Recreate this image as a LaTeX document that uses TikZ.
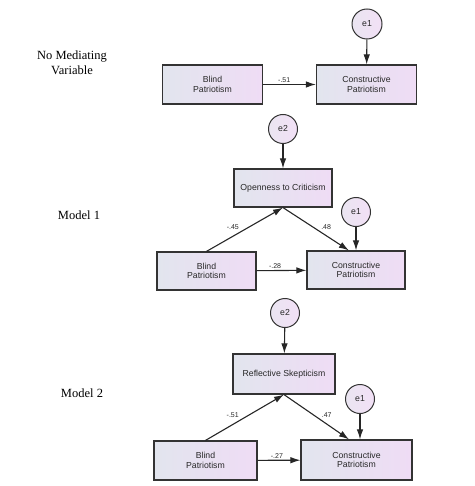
\documentclass[tikz,border=0pt]{standalone}
\usepackage{fontspec}
\setmainfont{Liberation Serif}
\setsansfont{Liberation Sans}
\usetikzlibrary{arrows.meta}
\definecolor{boxl}{HTML}{E2E5EE}
\definecolor{boxr}{HTML}{EFDCF5}
\definecolor{errl}{HTML}{EAE5F1}
\definecolor{errr}{HTML}{F2E0F6}
\definecolor{edge}{HTML}{333333}
\definecolor{txt}{HTML}{282828}
\begin{document}
\begin{tikzpicture}[x=1pt,y=-1pt]
\tikzstyle{var}=[draw=edge, line width=1.2pt, rectangle, minimum width=100pt, minimum height=39pt, inner sep=1pt, left color=boxl, right color=boxr, align=center, text=txt, font=\sffamily\fontsize{8.7}{9.5}\selectfont]
\tikzstyle{err}=[draw=edge, line width=1pt, circle, minimum size=29pt, inner sep=0pt, left color=errl, right color=errr, text=txt, font=\sffamily\fontsize{8.7}{9.5}\selectfont]
\tikzstyle{arr}=[-{Latex[length=10pt,width=6.5pt]}, line width=1.1pt, draw=black!85]
\tikzstyle{coef}=[font=\sffamily\fontsize{7}{8}\selectfont, text=txt, inner sep=1.5pt]
\tikzstyle{title}=[font=\fontsize{12.5}{14.5}\selectfont, align=center]
\useasboundingbox (0,0) rectangle (474,486);
% no mediating variable
\draw (72,63) node (t0) [title] {No Mediating\\Variable};
\draw (212.5,84.5) node (bp0) [var] {Blind\\Patriotism};
\draw (366.5,84.5) node (cp0) [var] {Constructive\\Patriotism};
\draw (367,24) node (e1a) [err, minimum size=30pt] {e1};
\draw [arr] (bp0) -- node [coef, above, pos=0.4] {-.51} (cp0);
\draw [arr] (e1a) -- (cp0);
% model 1
\draw (79,215) node (t1) [title] {Model 1};
\draw (283,188) node (oc1) [var, minimum width=98pt, minimum height=38pt] {Openness to Criticism};
\draw (206.5,271) node (bp1) [var, minimum width=99pt, minimum height=38pt] {Blind\\Patriotism};
\draw (356,270) node (cp1) [var, minimum width=98pt, minimum height=38pt] {Constructive\\Patriotism};
\draw (283,129) node (e2b) [err] {e2};
\draw (356,212) node (e1b) [err] {e1};
\draw [arr] (e2b) -- (oc1);
\draw [arr] (bp1.north) -- node [coef, above left, pos=0.45] {-.45} (oc1.south);
\draw [arr] (oc1.south) -- node [coef, above right, pos=0.55] {.48} (cp1.110);
\draw [arr] (bp1) -- node [coef, above, pos=0.37] {-.28} (cp1);
\draw [arr] (e1b) -- (cp1);
% model 2
\draw (82,393) node (t2) [title] {Model 2};
\draw (284,374) node (rs2) [var, minimum width=102pt, minimum height=40pt] {Reflective Skepticism};
\draw (205.5,460.5) node (bp2) [var, minimum width=103pt] {Blind\\Patriotism};
\draw (356.5,460) node (cp2) [var, minimum width=111pt, minimum height=40pt] {Constructive\\Patriotism};
\draw (285,313) node (e2c) [err] {e2};
\draw (360,399) node (e1c) [err] {e1};
\draw [arr] (e2c) -- (rs2);
\draw [arr] (bp2.north) -- node [coef, above left, pos=0.45] {-.51} (rs2.south);
\draw [arr] (rs2.south) -- node [coef, above right, pos=0.55] {.47} (cp2.110);
\draw [arr] (bp2) -- node [coef, above, pos=0.45] {-.27} (cp2);
\draw [arr] (e1c.south) -- (e1c.south |- cp2.north);
\end{tikzpicture}
\end{document}
